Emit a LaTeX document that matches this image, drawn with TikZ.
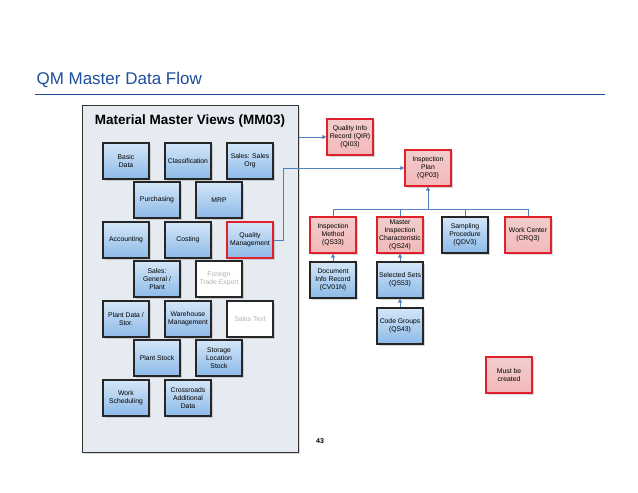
\documentclass[tikz,border=0pt]{standalone}
\usepackage{fontspec}
\setmainfont{Liberation Sans}
\usetikzlibrary{arrows.meta,shadows}
\definecolor{titleblue}{HTML}{1F4E9A}
\definecolor{lineblue}{HTML}{4F81BD}
\definecolor{contfill}{HTML}{E6EBF2}
\definecolor{redb}{HTML}{E0202A}
\definecolor{redfill}{HTML}{F2CDCD}
\definecolor{btop}{HTML}{D4E6F8}
\definecolor{bbot}{HTML}{8CBAE8}
\tikzset{
 box/.style={draw=black!85,line width=1.2pt,minimum width=46pt,minimum height=36pt,inner sep=1pt,
   align=center,font=\fontsize{6.8}{8}\selectfont,top color=btop,bottom color=bbot,
   drop shadow={shadow xshift=1.5pt,shadow yshift=-1.5pt,opacity=0.3}},
 qbox/.style={box,draw=redb,line width=1.4pt},
 rbox/.style={box,draw=redb,line width=1.4pt,top color=redfill,bottom color=redfill!90!red},
 gbox/.style={box,top color=white,bottom color=white,text=black!30},
 conn/.style={draw=lineblue,line width=1pt},
 arr/.style={conn,-{Triangle[length=4pt,width=4pt]}},
}
\begin{document}
\begin{tikzpicture}[x=1pt,y=-1pt]
\useasboundingbox[fill=white] (0,0) rectangle (638,493);
\node[anchor=west,text=titleblue,font=\fontsize{17}{20}\selectfont] (title) at (33,80) {QM Master Data Flow};
\draw[titleblue,line width=0.8pt] (35,94) -- (605,94);
\node[draw=black!80,line width=1pt,fill=contfill,minimum width=216pt,minimum height=347pt,
  drop shadow={shadow xshift=2pt,shadow yshift=-2pt,opacity=0.3}] (cont) at (190,278.5) {};
\node[font=\fontsize{13.5}{16}\selectfont\bfseries] (hdr) at (190,121) {Material Master Views (MM03)};
\node[box] (basic) at (126,161) {Basic\\Data};
\node[box] (class) at (188,161) {Classification};
\node[box] (sso) at (250,161) {Sales: Sales\\Org};
\node[box] (purch) at (157,200) {Purchasing};
\node[box] (mrp) at (219,200) {MRP};
\node[box] (acc) at (126,240) {Accounting};
\node[box] (cost) at (188,240) {Costing};
\node[qbox] (qm) at (250,240) {Quality\\Management};
\node[box] (sgp) at (157,279) {Sales:\\General /\\Plant};
\node[gbox] (fte) at (219,279) {Foreign\\Trade Export};
\node[box] (pds) at (126,319) {Plant Data /\\Stor.};
\node[box] (wm) at (188,319) {Warehouse\\Management};
\node[gbox] (st) at (250,319) {Sales Text};
\node[box] (ps) at (157,358) {Plant Stock};
\node[box] (sls) at (219,358) {Storage\\Location\\Stock};
\node[box] (ws) at (126,398) {Work\\Scheduling};
\node[box] (cad) at (188,398) {Crossroads\\Additional\\Data};

\node[rbox] (qir) at (350,137) {Quality Info\\Record (QIR)\\(QI03)};
\node[rbox] (ip) at (428,168) {Inspection\\Plan\\(QP03)};
\node[rbox] (im) at (333,235) {Inspection\\Method\\(QS33)};
\node[rbox] (mic) at (400,235) {Master\\Inspection\\Characteristic\\(QS24)};
\node[box] (sp) at (465,235) {Sampling\\Procedure\\(QDV3)};
\node[rbox] (wc) at (528,235) {Work Center\\(CRQ3)};
\node[box] (dir) at (333,280) {Document\\Info Record\\(CV01N)};
\node[box] (ss) at (400,280) {Selected Sets\\(QS53)};
\node[box] (cg) at (400,326) {Code Groups\\(QS43)};
\node[rbox] (mbc) at (509,375) {Must be\\created};
\node[font=\fontsize{7}{8}\selectfont\bfseries] (pg) at (320,441) {43};

\coordinate (bend) at (283,168);
\coordinate (qirstart) at (cont.east |- qir.west);
\draw[arr] (qm.east) -| (bend) -- (ip.west);
\draw[arr] (qirstart) -- (qir.west);
\coordinate (bus) at (428,209);
\draw[conn] (im.north) |- (wc.north |- bus) -- (wc.north);
\draw[conn] (mic.north) -- (mic.north |- bus);
\draw[conn] (sp.north) -- (sp.north |- bus);
\draw[arr] (bus) -- (ip.south);
\draw[arr] (dir.north) -- (im.south);
\draw[arr] (ss.north) -- (mic.south);
\draw[arr] (cg.north) -- (ss.south);
\end{tikzpicture}
\end{document}
